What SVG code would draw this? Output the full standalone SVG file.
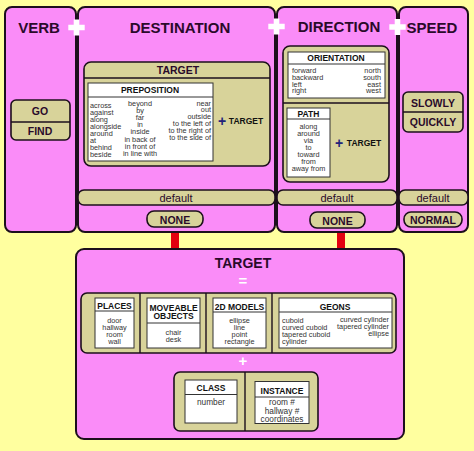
<svg xmlns="http://www.w3.org/2000/svg" width="474" height="451" viewBox="0 0 474 451">
<style>
.panel{fill:#FA8CF8;stroke:#1c0f1c;stroke-width:2}
.kh{fill:#D8D39A;stroke:#1c0f1c;stroke-width:1.6}
.wb{fill:#fff;stroke:#333;stroke-width:1}
.ln{stroke:#1c0f1c;stroke-width:1.4;fill:none}
.wl{stroke:#333;stroke-width:1;fill:none}
text{font-family:"Liberation Sans",Arial,sans-serif}
.t1{font-size:15px;font-weight:bold;fill:#2a0a2a;text-anchor:middle}
.t2{font-size:10.5px;font-weight:bold;fill:#2a0a2a;text-anchor:middle}
.t3{font-size:8.5px;font-weight:bold;fill:#111;text-anchor:middle}
.it{font-size:7.3px;fill:#333}
.it2{font-size:8.3px;fill:#333;text-anchor:middle}
.df{font-size:11px;fill:#2a0a2a;text-anchor:middle}
.cross{fill:#fff}
.sp{font-size:15px;font-weight:bold;fill:#fff;text-anchor:middle}
.bp{font-size:14px;font-weight:bold;fill:#22227a;text-anchor:middle}
.red{fill:#E3000F}
</style>
<defs>
<path id="cr" d="M-2.8,-8 h5.6 v5.2 h5.4 v5.6 h-5.4 v5.2 h-5.6 v-5.2 h-5.4 v-5.6 h5.4 z"/>
</defs>
<rect width="474" height="451" fill="#FFFF9F"/>

<g id="connectors">
<rect class="red" x="171" y="232" width="8" height="17"/>
<rect class="red" x="337" y="232" width="8" height="17"/>
</g>

<g id="verb">
<rect class="panel" x="5" y="7" width="71" height="225" rx="7"/>
<text class="t1" x="39" y="33">VERB</text>
<rect class="kh" x="11" y="100" width="59" height="40" rx="5"/>
<line class="ln" x1="11" y1="122" x2="70" y2="122"/>
<text class="t2" x="40" y="115">GO</text>
<text class="t2" x="40" y="135">FIND</text>
</g>

<g id="destination">
<rect class="panel" x="78" y="7" width="197" height="225" rx="7"/>
<text class="t1" x="180" y="33">DESTINATION</text>
<rect class="kh" x="84" y="62" width="186" height="104" rx="7"/>
<line class="ln" x1="84" y1="78" x2="270" y2="78"/>
<text class="t2" x="178" y="74">TARGET</text>
<rect class="wb" x="88" y="83" width="125" height="78"/>
<line class="wl" x1="88" y1="97" x2="213" y2="97"/>
<text class="t3" x="150" y="93">PREPOSITION</text>
<text class="it" x="90"><tspan x="90" y="107.5">across</tspan><tspan x="90" y="114.5">against</tspan><tspan x="90" y="121.5">along</tspan><tspan x="90" y="128.5">alongside</tspan><tspan x="90" y="135.5">around</tspan><tspan x="90" y="142.5">at</tspan><tspan x="90" y="149.5">behind</tspan><tspan x="90" y="156.5">beside</tspan></text>
<text class="it" text-anchor="middle"><tspan x="140" y="105.5">beyond</tspan><tspan x="140" y="112.7">by</tspan><tspan x="140" y="119.9">far</tspan><tspan x="140" y="127.1">in</tspan><tspan x="140" y="134.3">inside</tspan><tspan x="140" y="141.5">in back of</tspan><tspan x="140" y="148.7">in front of</tspan><tspan x="140" y="155.9">in line with</tspan></text>
<text class="it" text-anchor="end"><tspan x="211" y="105.5">near</tspan><tspan x="211" y="112.3">out</tspan><tspan x="211" y="119.1">outside</tspan><tspan x="211" y="125.9">to the left of</tspan><tspan x="211" y="132.7">to the right of</tspan><tspan x="211" y="139.5">to the side of</tspan></text>
<text class="bp" x="222" y="126">+</text>
<text class="t3" x="246" y="124">TARGET</text>
<rect class="kh" x="78" y="190" width="197" height="15" rx="6"/>
<text class="df" x="176" y="202">default</text>
<rect class="kh" x="147" y="211" width="56" height="16" rx="7"/>
<text class="t2" x="175" y="223.5">NONE</text>
</g>

<g id="direction">
<rect class="panel" x="277" y="7" width="120" height="225" rx="7"/>
<text class="t1" x="339" y="32">DIRECTION</text>
<rect class="kh" x="283" y="46" width="106" height="136" rx="7"/>
<line class="ln" x1="283" y1="103" x2="389" y2="103"/>
<rect class="wb" x="288" y="52" width="97" height="46"/>
<line class="wl" x1="288" y1="64" x2="385" y2="64"/>
<text class="t3" x="336" y="61">ORIENTATION</text>
<text class="it"><tspan x="292" y="73">forward</tspan><tspan x="292" y="79.8">backward</tspan><tspan x="292" y="86.6">left</tspan><tspan x="292" y="93.4">right</tspan></text>
<text class="it" text-anchor="end"><tspan x="381" y="73">north</tspan><tspan x="381" y="79.8">south</tspan><tspan x="381" y="86.6">east</tspan><tspan x="381" y="93.4">west</tspan></text>
<rect class="wb" x="287" y="108" width="43" height="69"/>
<line class="wl" x1="287" y1="119" x2="330" y2="119"/>
<text class="t3" x="308.5" y="116.5">PATH</text>
<text class="it" text-anchor="middle"><tspan x="308.5" y="128.5">along</tspan><tspan x="308.5" y="135.5">around</tspan><tspan x="308.5" y="142.5">via</tspan><tspan x="308.5" y="149.5">to</tspan><tspan x="308.5" y="156.5">toward</tspan><tspan x="308.5" y="163.5">from</tspan><tspan x="308.5" y="170.5">away from</tspan></text>
<text class="bp" x="339" y="148">+</text>
<text class="t3" x="364" y="146">TARGET</text>
<rect class="kh" x="277" y="190" width="120" height="15" rx="6"/>
<text class="df" x="337" y="202">default</text>
<rect class="kh" x="310" y="212" width="55" height="16" rx="7"/>
<text class="t2" x="337.5" y="224.5">NONE</text>
</g>

<g id="speed">
<rect class="panel" x="399" y="7" width="69" height="225" rx="7"/>
<text class="t1" x="432" y="33">SPEED</text>
<rect class="kh" x="403" y="92" width="60" height="40" rx="5"/>
<line class="ln" x1="403" y1="112" x2="463" y2="112"/>
<text class="t2" x="433" y="106.5">SLOWLY</text>
<text class="t2" x="433" y="126">QUICKLY</text>
<rect class="kh" x="399" y="190" width="69" height="15" rx="6"/>
<text class="df" x="433" y="202">default</text>
<rect class="kh" x="404" y="212" width="58" height="15" rx="7"/>
<text class="t2" x="433" y="223.5">NORMAL</text>
</g>

<g id="plus-signs">
<use href="#cr" class="cross" x="76.5" y="27.5"/>
<use href="#cr" class="cross" x="276.5" y="26.5"/>
<use href="#cr" class="cross" x="397.5" y="27"/>
</g>

<g id="target">
<rect class="panel" x="76" y="249" width="328" height="190" rx="8"/>
<text class="t1" x="243" y="268" style="font-size:14px">TARGET</text>
<text class="sp" x="243" y="286">=</text>
<rect class="kh" x="81" y="293" width="315" height="60" rx="6"/>
<line class="ln" x1="140" y1="293" x2="140" y2="353"/>
<line class="ln" x1="206" y1="293" x2="206" y2="353"/>
<line class="ln" x1="272" y1="293" x2="272" y2="353"/>

<rect class="wb" x="95" y="298" width="39" height="50"/>
<line class="wl" x1="95" y1="311" x2="134" y2="311"/>
<text class="t3" x="114.5" y="309">PLACES</text>
<text class="it" text-anchor="middle"><tspan x="114.5" y="322.5">door</tspan><tspan x="114.5" y="329.8">hallway</tspan><tspan x="114.5" y="337.1">room</tspan><tspan x="114.5" y="344.4">wall</tspan></text>

<rect class="wb" x="147" y="298" width="53" height="50"/>
<line class="wl" x1="147" y1="323" x2="200" y2="323"/>
<text class="t3" x="173.5" y="310.5">MOVEABLE</text>
<text class="t3" x="173.5" y="319">OBJECTS</text>
<text class="it" text-anchor="middle"><tspan x="173.5" y="334.5">chair</tspan><tspan x="173.5" y="341.5">desk</tspan></text>

<rect class="wb" x="213" y="298" width="53" height="50"/>
<line class="wl" x1="213" y1="312" x2="266" y2="312"/>
<text class="t3" x="239.5" y="309.5">2D MODELS</text>
<text class="it" text-anchor="middle"><tspan x="239.5" y="322.5">ellipse</tspan><tspan x="239.5" y="329.7">line</tspan><tspan x="239.5" y="336.9">point</tspan><tspan x="239.5" y="344.1">rectangle</tspan></text>

<rect class="wb" x="279" y="298" width="113" height="50"/>
<line class="wl" x1="279" y1="312" x2="392" y2="312"/>
<text class="t3" x="335" y="309.5">GEONS</text>
<text class="it"><tspan x="282" y="322.5">cuboid</tspan><tspan x="282" y="329.8">curved cuboid</tspan><tspan x="282" y="337.1">tapered cuboid</tspan><tspan x="282" y="344.4">cylinder</tspan></text>
<text class="it" text-anchor="end"><tspan x="389" y="321.5">curved cylinder</tspan><tspan x="389" y="328.9">tapered cylinder</tspan><tspan x="389" y="336.3">ellipse</tspan></text>

<text class="sp" x="243" y="366">+</text>

<rect class="kh" x="174" y="372" width="144" height="59" rx="6"/>
<line class="ln" x1="245" y1="372" x2="245" y2="431"/>
<rect class="wb" x="185" y="380" width="52" height="43"/>
<line class="wl" x1="185" y1="394.5" x2="237" y2="394.5"/>
<text class="t3" x="211" y="391">CLASS</text>
<text class="it2" x="211" y="405">number</text>
<rect class="wb" x="255" y="381.5" width="54" height="42"/>
<line class="wl" x1="255" y1="397" x2="309" y2="397"/>
<text class="t3" x="282" y="393.5">INSTANCE</text>
<text class="it2"><tspan x="282" y="405">room #</tspan><tspan x="282" y="413.5">hallway #</tspan><tspan x="282" y="422">coordinates</tspan></text>
</g>
</svg>
